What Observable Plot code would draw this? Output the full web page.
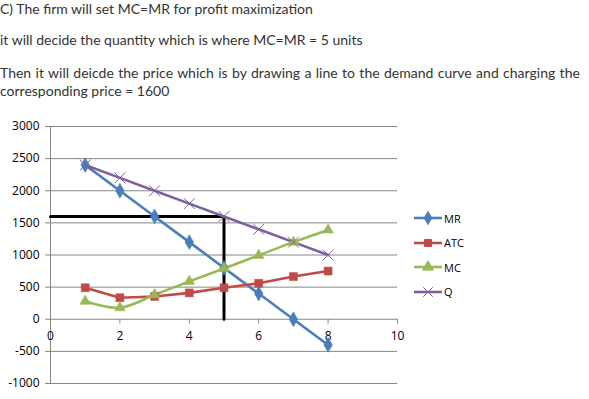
<!DOCTYPE html>
<html>
<head>
<meta charset="utf-8">
<script src="https://cdn.jsdelivr.net/npm/d3@7"></script>
<script src="https://cdn.jsdelivr.net/npm/@observablehq/plot@0.6"></script>
<style>
  html, body { margin: 0; padding: 0; background: #fff; }
  body { width: 589px; height: 399px; position: relative; overflow: hidden; }
  .t { position: absolute; left: 0; font-family: Lato, "Open Sans", sans-serif; font-size: 14px; line-height: 17px; color: #333; white-space: nowrap; }
  #chart { position: absolute; left: 0; top: 110px; }
  #legend { position: absolute; left: 413px; top: 210px; font-family: "Open Sans", sans-serif; font-size: 11px; color: #000; }
  #legend .item { position: absolute; left: 0; height: 16px; display: flex; align-items: center; white-space: nowrap; }
  #legend svg { display: block; margin-right: 1px; }
</style>
</head>
<body>
<div class="t" style="top:0px">C) The firm will set MC=MR for profit maximization</div>
<div class="t" style="top:31px">it will decide the quantity which is where MC=MR = 5 units</div>
<div class="t" style="top:64px; word-spacing:0.8px">Then it will deicde the price which is by drawing a line to the demand curve and charging the</div>
<div class="t" style="top:82px">corresponding price = 1600</div>
<div id="chart"></div>
<div id="legend"></div>
<script>
const quantity = [1, 2, 3, 4, 5, 6, 7, 8];
const mr  = [2400, 2000, 1600, 1200, 800, 400, 0, -400];
const atc = [490, 335, 355, 410, 490, 560, 665, 750];
const mc  = [280, 180, 380, 590, 790, 995, 1200, 1390];
const q   = [2400, 2200, 2000, 1800, 1600, 1400, 1200, 1000];
const seriesNames = ["MR", "ATC", "MC", "Q"];
const seriesColors = ["#4A7EBB", "#BE4B48", "#98B954", "#7D60A0"];
const seriesSymbols = ["diamond", "square", "triangle", "times"];
const xTicks = [0, 2, 4, 6, 8, 10];
const yTicks = [-1000, -500, 0, 500, 1000, 1500, 2000, 2500, 3000];
const chosenQ = 5;
const chosenP = 1600;

const rows = (vals) => quantity.map((x, i) => ({x, y: vals[i]}));
const series = [mr, atc, mc, q].map(rows);

const marks = [
  Plot.ruleY(yTicks, {stroke: "#868686", strokeWidth: 1}),
  Plot.ruleX([0], {y1: -1000, y2: 3000, stroke: "#868686"}),
  Plot.axisY(yTicks, {tickSize: 5, tickPadding: 6, tickFormat: d => String(d), label: null, stroke: "#868686", fill: "#000", fontSize: 12}),
  Plot.ruleX(xTicks, {x: d => d, y1: 0, y2: -75, stroke: "#868686"}),
  Plot.text(xTicks, {x: d => d, y: 0, dy: 17, text: d => String(d), fill: "#000", fontSize: 12}),
  Plot.line([{x: 0, y: chosenP}, {x: chosenQ, y: chosenP}, {x: chosenQ, y: 0}], {x: "x", y: "y", stroke: "#000", strokeWidth: 3, strokeLinejoin: "miter"})
];
series.forEach((data, i) => {
  marks.push(Plot.line(data, {x: "x", y: "y", stroke: seriesColors[i], strokeWidth: 2.6, curve: i === 2 ? "catmull-rom" : "linear"}));
});
series.forEach((data, i) => {
  const sym = seriesSymbols[i];
  if (sym === "times") {
    marks.push(Plot.dot(data, {x: "x", y: "y", symbol: "times", r: 5, stroke: seriesColors[i], strokeWidth: 1}));
  } else {
    marks.push(Plot.dot(data, {x: "x", y: "y", symbol: sym, r: sym === "triangle" ? 4 : 4.5, fill: seriesColors[i], stroke: seriesColors[i], strokeWidth: 0.5}));
  }
});

const chart = Plot.plot({
  width: 589,
  height: 289,
  marginLeft: 50,
  marginRight: 192,
  marginTop: 16,
  marginBottom: 16,
  x: {domain: [0, 10], axis: null},
  y: {domain: [-1000, 3000], axis: null},
  style: {background: "transparent", overflow: "visible", fontFamily: "'Open Sans', sans-serif", fontSize: "12px"},
  marks
});
document.getElementById("chart").appendChild(chart);

// Legend
const legend = d3.select("#legend");
const sym = d3.scaleOrdinal(seriesSymbols, [d3.symbolDiamond, d3.symbolSquare, d3.symbolTriangle, d3.symbolTimes]);
seriesNames.forEach((name, i) => {
  const item = legend.append("div").attr("class", "item").style("top", (i * 24.5) + "px");
  const svg = item.append("svg").attr("width", 30).attr("height", 16);
  svg.append("line").attr("x1", 1).attr("x2", 29).attr("y1", 8).attr("y2", 8).attr("stroke", seriesColors[i]).attr("stroke-width", 2.6);
  const path = d3.symbol(sym(seriesSymbols[i]), seriesSymbols[i] === "times" ? 60 : 50)();
  svg.append("path").attr("d", path).attr("transform", "translate(15,8)")
    .attr("fill", seriesSymbols[i] === "times" ? "none" : seriesColors[i])
    .attr("stroke", seriesColors[i]).attr("stroke-width", 1);
  item.append("span").text(name);
});
</script>
</body>
</html>
